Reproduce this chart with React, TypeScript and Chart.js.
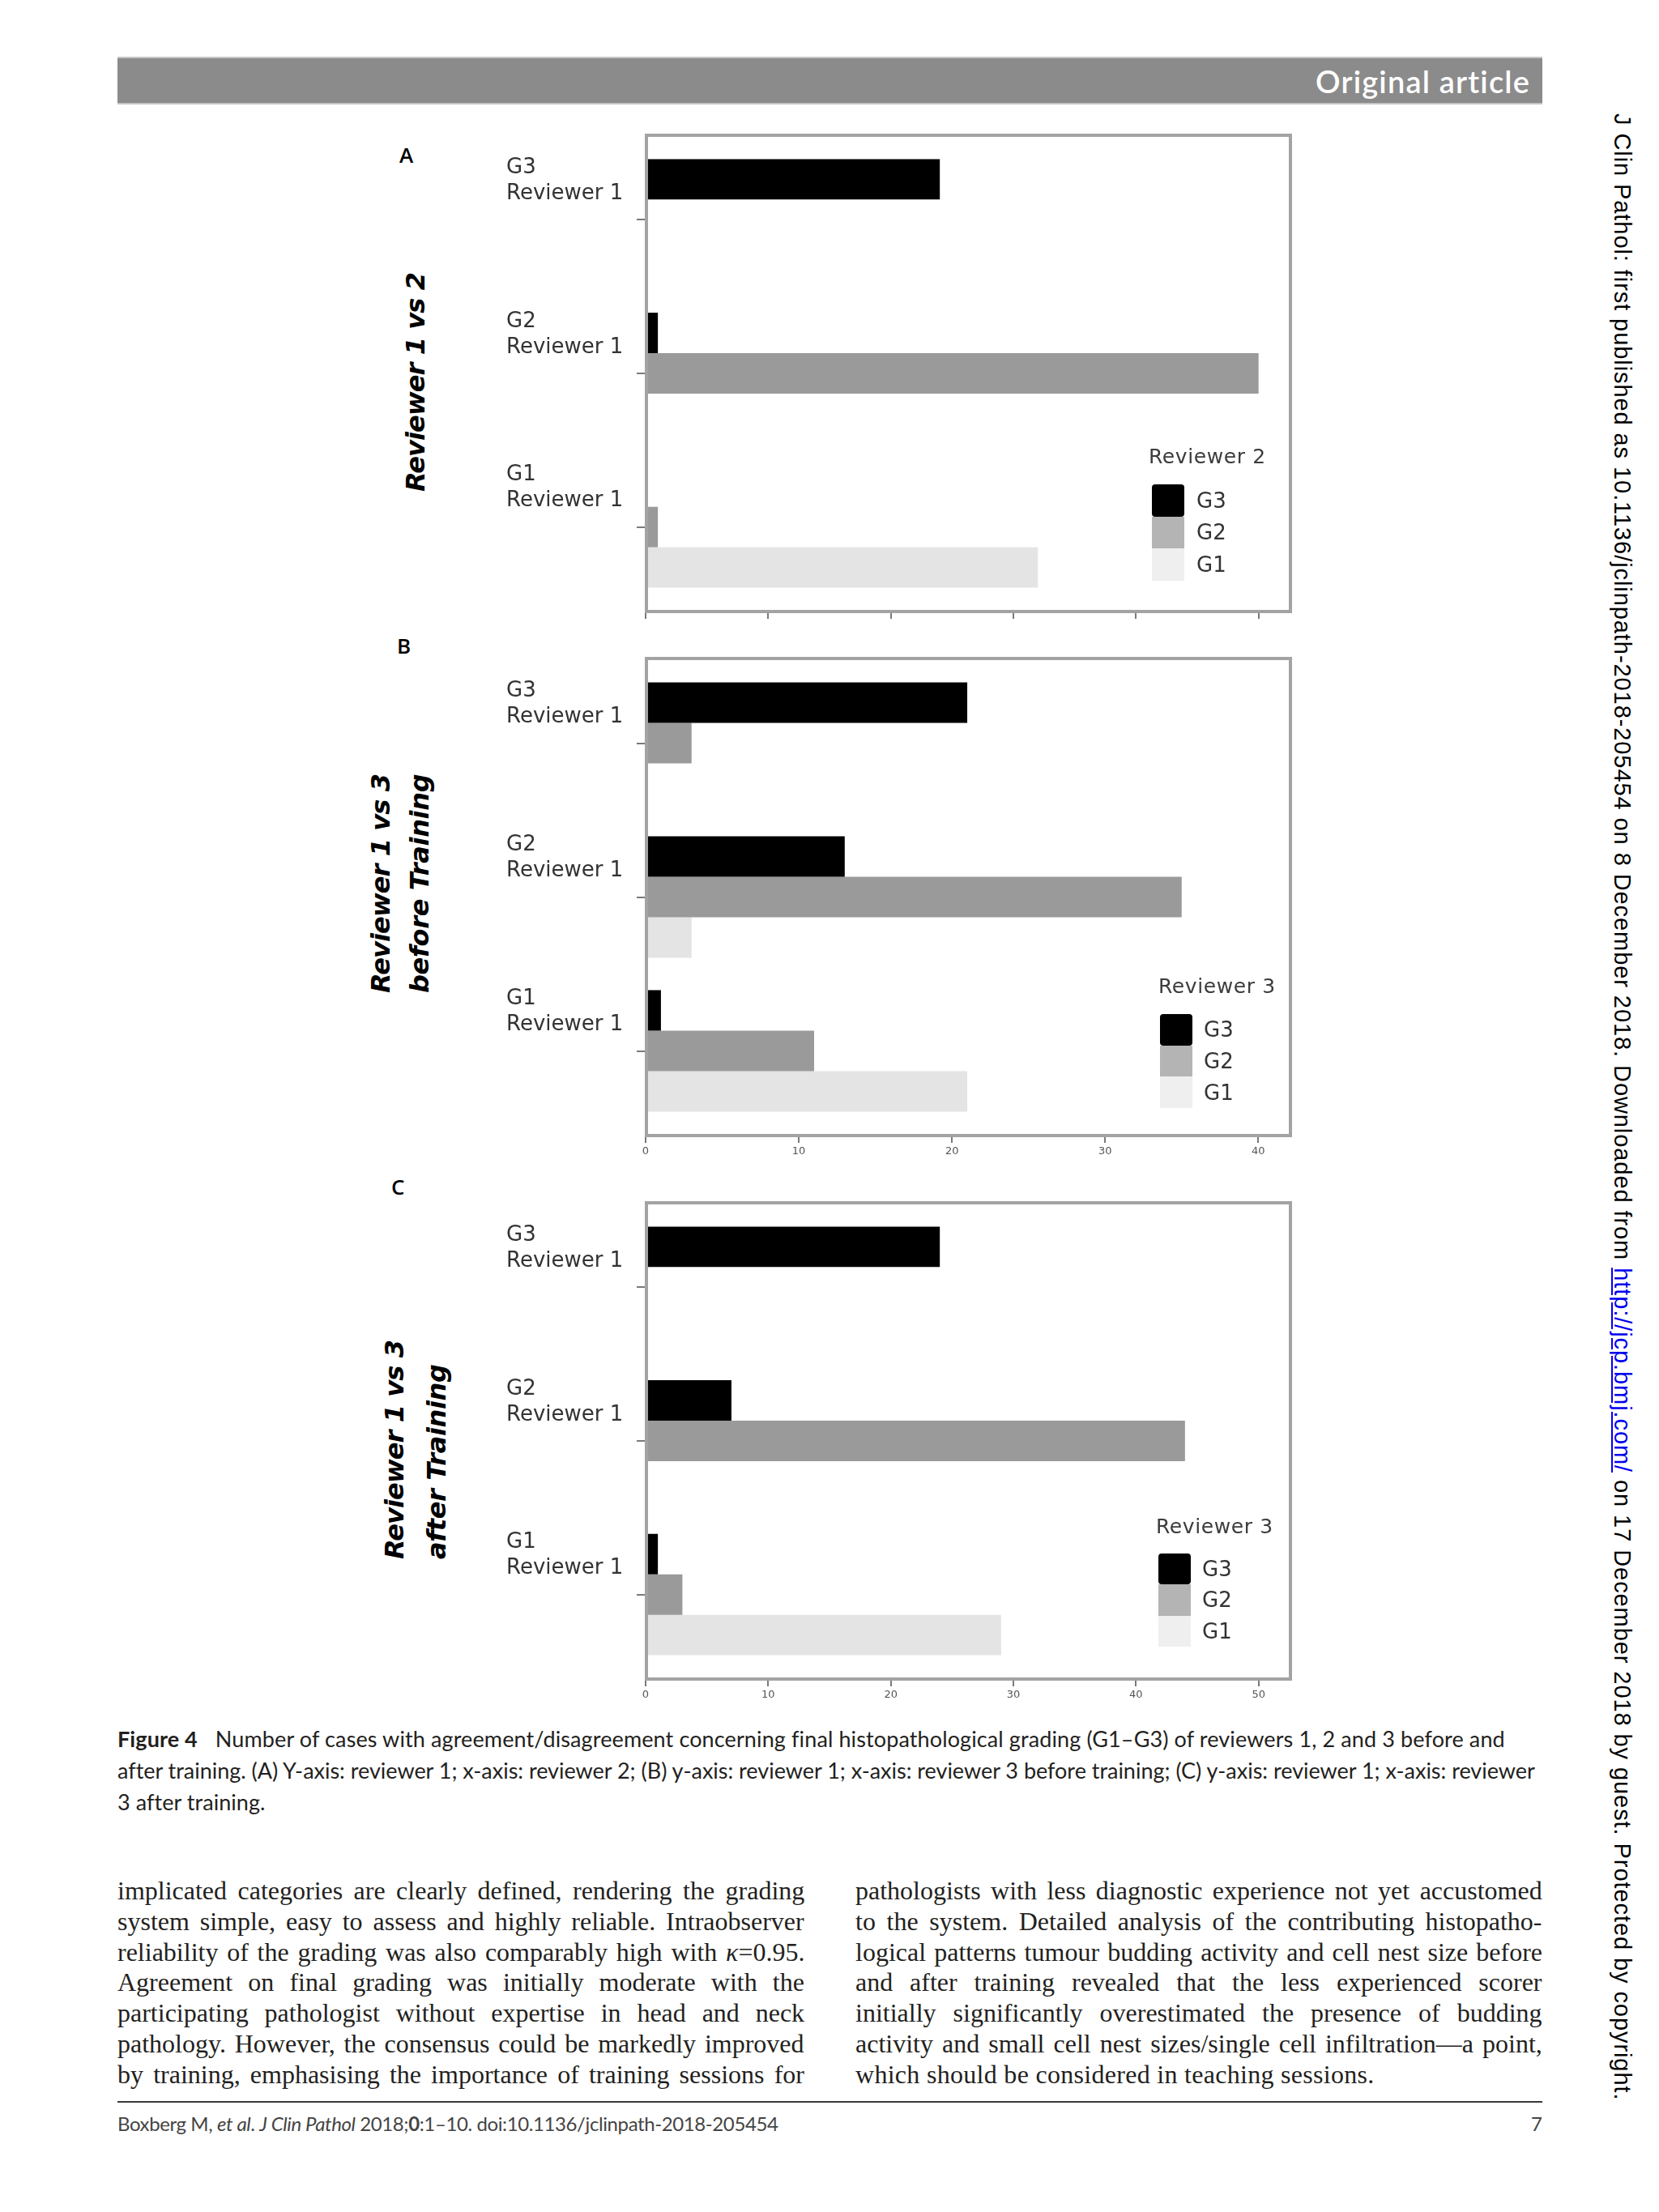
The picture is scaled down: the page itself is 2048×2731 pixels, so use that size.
import React, { useEffect, useLayoutEffect, useRef } from 'react';
import { Chart, registerables } from 'chart.js';

Chart.register(...registerables);

// ---------------- DATA ----------------
const rowGrades = ['G3', 'G2', 'G1'];
const rowSuffix = 'Reviewer 1';
const seriesGrades = ['G3', 'G2', 'G1'];
const xTickStep = 10;

// Panel A: rows = reviewer 1, series = reviewer 2
const aR2G3 = [24, 1, 0];
const aR2G2 = [0, 50, 1];
const aR2G1 = [0, 0, 32];
const aAxisMax = 52.6;

// Panel B: rows = reviewer 1, series = reviewer 3 before training
const bR3G3 = [21, 13, 1];
const bR3G2 = [3, 35, 11];
const bR3G1 = [0, 3, 21];
const bAxisMax = 42.1;

// Panel C: rows = reviewer 1, series = reviewer 3 after training
const cR3G3 = [24, 7, 1];
const cR3G2 = [0, 44, 3];
const cR3G1 = [0, 0, 29];
const cAxisMax = 52.6;

const barColors = ['#000000', '#9a9a9a', '#e4e4e4'];
const legendColors = ['#000000', '#b4b4b4', '#efefef'];

// ---------------- LAYOUT ----------------
const PANELS = [
  {
    letter: 'A', letterX: 493, letterY: 178,
    canvas: { left: 625, top: 163, width: 975, height: 632 },
    max: aAxisMax, series: [aR2G3, aR2G2, aR2G1], tickLabels: false,
    legendTitle: 'Reviewer 2',
    legend: { titleX: 1418, titleY: 549, titleW: 145, swX: 1422, swY: 598, swH: 39.5, gap: 15 },
    titleLines: [{ text: 'Reviewer 1 vs 2', x: 495, y: 607, w: 270 }],
  },
  {
    letter: 'B', letterX: 490, letterY: 784,
    canvas: { left: 625, top: 809, width: 975, height: 633 },
    max: bAxisMax, series: [bR3G3, bR3G2, bR3G1], tickLabels: true,
    legendTitle: 'Reviewer 3',
    legend: { titleX: 1430, titleY: 1203, titleW: 145, swX: 1432, swY: 1252, swH: 38.7, gap: 14 },
    titleLines: [
      { text: 'Reviewer 1 vs 3', x: 452, y: 1226, w: 270 },
      { text: 'before Training', x: 500, y: 1226, w: 270 },
    ],
  },
  {
    letter: 'C', letterX: 483, letterY: 1452,
    canvas: { left: 625, top: 1481, width: 975, height: 632 },
    max: cAxisMax, series: [cR3G3, cR3G2, cR3G1], tickLabels: true,
    legendTitle: 'Reviewer 3',
    legend: { titleX: 1427, titleY: 1870, titleW: 145, swX: 1430, swY: 1918, swH: 38.3, gap: 14 },
    titleLines: [
      { text: 'Reviewer 1 vs 3', x: 469, y: 1925, w: 270 },
      { text: 'after Training', x: 521, y: 1925, w: 241 },
    ],
  },
];

const framePlugin = {
  id: 'frame',
  afterDatasetsDraw(chart: any) {
    const { ctx, chartArea } = chart;
    const { left, top, right, bottom } = chartArea;
    ctx.save();
    ctx.strokeStyle = '#a3a3a3';
    ctx.lineWidth = 4;
    ctx.strokeRect(left + 1, top, right - left - 1, bottom - top);
    ctx.restore();
  },
};

function BarPanel({ p }: { p: (typeof PANELS)[number] }) {
  const ref = useRef<HTMLCanvasElement>(null);
  useEffect(() => {
    if (!ref.current) return;
    const chart = new Chart(ref.current, {
      type: 'bar',
      data: {
        datasets: p.series.map((vals, i) => ({
          label: seriesGrades[i],
          data: vals.map((v, r) => ({ x: v, y: r })),
          backgroundColor: barColors[i],
          borderWidth: 0,
          categoryPercentage: 0.79,
          barPercentage: 1,
        })),
      },
      options: {
        animation: false,
        responsive: false,
        maintainAspectRatio: false,
        indexAxis: 'y',
        layout: { padding: { top: 4, right: 7, bottom: 0, left: 0 } },
        plugins: {
          legend: { display: false },
          tooltip: { enabled: false },
          title: { display: false },
        },
        scales: {
          x: {
            type: 'linear',
            position: 'bottom',
            min: 0,
            max: p.max,
            offset: false,
            ticks: {
              stepSize: xTickStep,
              includeBounds: false,
              display: p.tickLabels,
              maxRotation: 0,
              minRotation: 0,
              padding: 3,
              color: '#555555',
              font: { family: 'DejaVu Sans', size: 13 },
            },
            grid: {
              offset: false,
              drawOnChartArea: false,
              drawTicks: true,
              tickLength: 9,
              color: '#7a7a7a',
              lineWidth: 2,
            },
            border: { display: false },
            afterFit: (s: any) => {
              s.height = 40;
              s.paddingLeft = 0;
              s.paddingRight = 0;
            },
          },
          y: {
            type: 'linear',
            position: 'left',
            reverse: true,
            offset: false,
            min: -0.55,
            max: rowGrades.length - 1 + 0.55,
            afterBuildTicks: (s: any) => {
              s.ticks = rowGrades.map((_, i) => ({ value: i }));
            },
            ticks: {
              crossAlign: 'far',
              color: '#333333',
              padding: 6,
              autoSkip: false,
              includeBounds: false,
              font: { family: 'DejaVu Sans', size: 26, lineHeight: 1.23 },
              callback: (v: any) => {
                const i = Math.round(Number(v));
                return [rowGrades[i] ?? '', rowSuffix, '', '', ''];
              },
            },
            grid: {
              offset: false,
              drawOnChartArea: false,
              drawTicks: true,
              tickLength: 11,
              color: '#7a7a7a',
              lineWidth: 2,
            },
            border: { display: false },
            afterFit: (s: any) => {
              s.width = 172;
              s.paddingTop = 0;
              s.paddingBottom = 0;
            },
          },
        },
      } as any,
      plugins: [framePlugin],
    });
    return () => chart.destroy();
  }, [p]);
  const c = p.canvas;
  return (
    <canvas
      ref={ref}
      width={c.width}
      height={c.height}
      style={{ position: 'absolute', left: c.left, top: c.top, width: c.width, height: c.height }}
    />
  );
}

type LineProps = {
  x: number;
  y: number;
  w?: number;
  mode?: 'letter' | 'word';
  style?: React.CSSProperties;
  children: React.ReactNode;
};

function Line({ x, y, w, mode = 'letter', style, children }: LineProps) {
  const ref = useRef<HTMLDivElement>(null);
  useLayoutEffect(() => {
    const el = ref.current;
    if (!el || !w) return;
    const fit = () => {
      el.style.letterSpacing = '0px';
      el.style.wordSpacing = '0px';
      const nat = el.offsetWidth;
      const text = el.textContent || '';
      if (mode === 'word') {
        const n = (text.match(/ /g) || []).length;
        if (n > 0) el.style.wordSpacing = `${(w - nat) / n}px`;
      } else {
        const n = text.length;
        if (n > 0) el.style.letterSpacing = `${(w - nat) / n}px`;
      }
    };
    fit();
    const fonts = (document as any).fonts;
    if (fonts && fonts.ready) fonts.ready.then(fit);
  }, [w, mode]);
  return (
    <div
      ref={ref}
      style={{ position: 'absolute', left: x, top: y, whiteSpace: 'nowrap', display: 'inline-block', ...style }}
    >
      {children}
    </div>
  );
}

function Legend({ p }: { p: (typeof PANELS)[number] }) {
  const L = p.legend;
  return (
    <>
      <Line
        x={L.titleX}
        y={L.titleY}
        w={L.titleW}
        style={{ fontFamily: 'DejaVu Sans', fontSize: 25, lineHeight: '30px', color: '#3c3c3c' }}
      >
        {p.legendTitle}
      </Line>
      {seriesGrades.map((g, i) => (
        <div
          key={g}
          style={{
            position: 'absolute',
            left: L.swX,
            top: L.swY + i * L.swH,
            height: L.swH,
            display: 'flex',
            alignItems: 'center',
          }}
        >
          <div
            style={{
              width: 40,
              height: L.swH,
              background: legendColors[i],
              borderRadius: i === 0 ? 4 : 0,
            }}
          />
          <div
            style={{
              marginLeft: L.gap,
              fontFamily: 'DejaVu Sans',
              fontSize: 26,
              color: '#333333',
              lineHeight: '30px',
            }}
          >
            {g}
          </div>
        </div>
      ))}
    </>
  );
}

const CAP_FONT = '"Lato", "Open Sans", sans-serif';
const BODY_FONT = '"Liberation Serif", "DejaVu Serif", serif';
const INK = '#231f20';

const bodyCol1 = [
  'implicated categories are clearly defined, rendering the grading',
  'system simple, easy to assess and highly reliable. Intraobserver',
  'reliability of the grading was also comparably high with \u03BA=0.95.',
  'Agreement on final grading was initially moderate with the',
  'participating pathologist without expertise in head and neck',
  'pathology. However, the consensus could be markedly improved',
  'by training, emphasising the importance of training sessions for',
];
const bodyCol2 = [
  'pathologists with less diagnostic experience not yet accustomed',
  'to the system. Detailed analysis of the contributing histopatho-',
  'logical patterns tumour budding activity and cell nest size before',
  'and after training revealed that the less experienced scorer',
  'initially significantly overestimated the presence of budding',
  'activity and small cell nest sizes/single cell infiltration\u2014a point,',
  'which should be considered in teaching sessions.',
];

function renderKappa(s: string) {
  const idx = s.indexOf('\u03BA');
  if (idx < 0) return s;
  return (
    <>
      {s.slice(0, idx)}
      <i>{'\u03BA'}</i>
      {s.slice(idx + 1)}
    </>
  );
}

const BODY_TOP = 2315;
const BODY_STEP = 37.75;

export default function App() {
  useEffect(() => {
    document.body.style.margin = '0';
  }, []);
  const bodyStyle: React.CSSProperties = { fontFamily: BODY_FONT, fontSize: 32, lineHeight: '38px', color: INK };
  const capStyle: React.CSSProperties = { fontFamily: CAP_FONT, fontSize: 27, lineHeight: '38px', color: INK };
  return (
    <div
      style={{
        position: 'absolute',
        left: 0,
        top: 0,
        width: 2048,
        height: 2731,
        background: '#ffffff',
        overflow: 'hidden',
      }}
    >
      {/* header bar */}
      <div
        style={{
          position: 'absolute',
          left: 145,
          top: 70,
          width: 1759,
          height: 55,
          background: '#8b8b8b',
          borderTop: '2px solid #c4c4c4',
          borderBottom: '2px solid #c4c4c4',
        }}
      />
      <Line
        x={1624}
        y={77}
        w={266}
        style={{ fontFamily: CAP_FONT, fontSize: 38, lineHeight: '46px', color: '#ffffff', fontWeight: 600 }}
      >
        Original article
      </Line>

      {/* side watermark */}
      <Line
        x={2020}
        y={140}
        w={2453}
        style={{
          fontFamily: '"Liberation Sans", Arial, sans-serif',
          fontSize: 29,
          lineHeight: '34px',
          color: '#000000',
          transform: 'rotate(90deg)',
          transformOrigin: '0 0',
        }}
      >
        J Clin Pathol: first published as 10.1136/jclinpath-2018-205454 on 8 December 2018. Downloaded from{' '}
        <span style={{ color: '#0000ee', textDecoration: 'underline' }}>http://jcp.bmj.com/</span> on 17 December
        2018 by guest. Protected by copyright.
      </Line>

      {/* panels */}
      {PANELS.map((p) => (
        <React.Fragment key={p.letter}>
          <Line
            x={p.letterX}
            y={p.letterY}
            style={{ fontFamily: '"Open Sans", sans-serif', fontSize: 26, lineHeight: '26px', color: '#000', fontWeight: 600 }}
          >
            {p.letter}
          </Line>
          {p.titleLines.map((t, i) => (
            <Line
              key={i}
              x={t.x}
              y={t.y}
              w={t.w}
              style={{
                fontFamily: '"DejaVu Sans", Verdana, sans-serif',
                fontWeight: 'bold',
                fontStyle: 'italic',
                fontSize: 32,
                lineHeight: '36px',
                color: '#000',
                transform: 'rotate(-90deg)',
                transformOrigin: '0 0',
              }}
            >
              {t.text}
            </Line>
          ))}
          <BarPanel p={p} />
          <Legend p={p} />
        </React.Fragment>
      ))}

      {/* caption */}
      <Line x={145} y={2128} w={1712} style={capStyle}>
        <b>Figure 4</b>
        <span style={{ display: 'inline-block', width: 22 }} />
        Number of cases with agreement/disagreement concerning final histopathological grading (G1–G3) of reviewers 1, 2 and 3 before and
      </Line>
      <Line x={145} y={2167} w={1749} style={capStyle}>
        after training. (A) Y-axis: reviewer 1; x-axis: reviewer 2; (B) y-axis: reviewer 1; x-axis: reviewer 3 before training; (C) y-axis: reviewer 1; x-axis: reviewer
      </Line>
      <Line x={145} y={2206} w={182} style={capStyle}>
        3 after training.
      </Line>

      {/* body text */}
      {bodyCol1.map((s, i) => (
        <Line key={'a' + i} x={145} y={BODY_TOP + i * BODY_STEP} w={848} mode="word" style={bodyStyle}>
          {renderKappa(s)}
        </Line>
      ))}
      {bodyCol2.map((s, i) => {
        const last = i === bodyCol2.length - 1;
        return (
          <Line
            key={'b' + i}
            x={1056}
            y={BODY_TOP + i * BODY_STEP}
            w={last ? 641 : 848}
            mode={last ? 'letter' : 'word'}
            style={bodyStyle}
          >
            {s}
          </Line>
        );
      })}

      {/* footer */}
      <div style={{ position: 'absolute', left: 145, top: 2594, width: 1759, height: 2, background: '#3a3a3a' }} />
      <Line x={145} y={2604} w={815} style={{ fontFamily: CAP_FONT, fontSize: 24, lineHeight: '36px', color: '#444' }}>
        Boxberg M, <i>et al</i>. <i>J Clin Pathol</i> 2018;<b>0</b>:1–10. doi:10.1136/jclinpath-2018-205454
      </Line>
      <div
        style={{
          position: 'absolute',
          right: 2048 - 1904,
          top: 2604,
          fontFamily: CAP_FONT,
          fontSize: 24,
          lineHeight: '36px',
          color: '#444',
        }}
      >
        7
      </div>
    </div>
  );
}
